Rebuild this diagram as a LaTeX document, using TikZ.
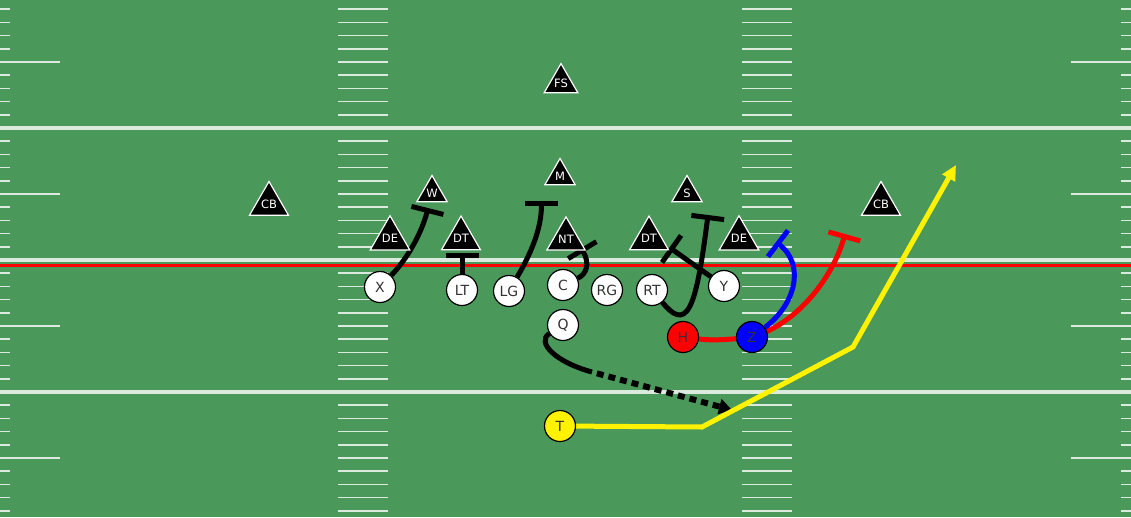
\documentclass[tikz,border=0pt]{standalone}
\usepackage{fontspec}
\setmainfont{DejaVu Sans}
\usetikzlibrary{arrows.meta,shapes.geometric}
\pgfdeclarelayer{field}
\pgfdeclarelayer{routes}
\pgfsetlayers{field,routes,main}
\definecolor{turf}{RGB}{74,152,90}
\begin{document}
\begin{tikzpicture}[x=1pt,y=-1pt,
  player/.style={circle,draw=black,line width=1.2pt,fill=white,minimum size=31pt,inner sep=0pt,text=black!80,font=\fontsize{14}{15}\selectfont},
  defender/.style={regular polygon,regular polygon sides=3,fill=black,draw=white,line width=1.2pt,minimum size=35pt,inner sep=0pt,text=white,font=\fontsize{11.5}{12}\selectfont},
  hashmark/.style={white,line width=1.7pt,opacity=0.8},
  yardline/.style={white,line width=3.5pt,opacity=0.8},
  block/.style={line width=5pt,-{Bar[width=33pt]}},
  qpath/.style={line width=5pt},
  qdots/.style={line width=6pt,dash pattern=on 7pt off 5pt,dash phase=7pt,-{Triangle[length=13pt,width=15pt]}},
  troute/.style={line width=5pt,yellow,-{Triangle[length=15pt,width=14pt]}}
]
\useasboundingbox (0,0) rectangle (1131,517);

\begin{pgfonlayer}{field}
\fill[turf] (0,0) rectangle (1131,517);
\foreach \Y in {-4,128,260,392}{
  \foreach \k in {1,2,3,4,6,7,8,9}{
    \pgfmathsetmacro\yy{\Y+13.2*\k}
    \draw[hashmark] (0,\yy) -- (10,\yy) (338,\yy) -- (388,\yy) (742,\yy) -- (792,\yy) (1121,\yy) -- (1131,\yy);
  }
  \pgfmathsetmacro\yy{\Y+66}
  \draw[hashmark] (0,\yy) -- (60,\yy) (338,\yy) -- (388,\yy) (742,\yy) -- (792,\yy) (1071,\yy) -- (1131,\yy);
}
\foreach \Y in {-3,128,260,392}{\draw[yardline] (0,\Y) -- (1131,\Y);}
\draw[red,line width=3.5pt] (0,265.5) -- (1131,265.5);
\end{pgfonlayer}

% defense
\node[defender] (FS) at (561,83) {FS};
\node[defender] (M) at (560,176) {M};
\node[defender] (W) at (432,193) {W};
\node[defender] (S) at (687,193) {S};
\node[defender] (CBl) at (269,204) {CB};
\node[defender] (CBr) at (881,204) {CB};
\node[defender] (DEl) at (390,238.5) {DE};
\node[defender] (DTl) at (461,238.5) {DT};
\node[defender] (NT) at (566,239) {NT};
\node[defender] (DTr) at (649,238.5) {DT};
\node[defender] (DEr) at (739,238.5) {DE};

% offense
\node[player] (X) at (380,287) {X};
\node[player] (LT) at (462,290) {LT};
\node[player] (LG) at (509,291) {LG};
\node[player] (C) at (563,285) {C};
\node[player] (RG) at (607,290) {RG};
\node[player] (RT) at (652,290) {RT};
\node[player] (Y) at (724,286) {Y};
\node[player,fill=red] (H) at (683,337) {H};
\node[player,fill=blue] (Z) at (752,337) {Z};
\node[player] (Q) at (563,325) {Q};
\node[player,fill=yellow] (T) at (560,426) {T};

% route ends
\coordinate (xEnd) at (428,208);
\coordinate (ltEnd) at (462,253);
\coordinate (lgEnd) at (541.5,201);
\coordinate (cEnd) at (581,248);
\coordinate (rtTurn) at (690,306);
\coordinate (rtEnd) at (708,215);
\coordinate (yEnd) at (669.5,247.5);
\coordinate (hEnd) at (845,234);
\coordinate (zEnd) at (776,242);
\coordinate (qMid) at (592,372);
\coordinate (qEnd) at (732,410);
\coordinate (tA) at (702,427);
\coordinate (tB) at (853,347);
\coordinate (tEnd) at (956,165);

\begin{pgfonlayer}{routes}
\draw[block] (X) .. controls (408,258) and (422,232) .. (xEnd);
\draw[block] (LT) -- (ltEnd);
\draw[block] (LG) .. controls (530,255) and (541.5,230) .. (lgEnd);
\draw[block] (C) .. controls (587,274) and (590,263) .. (cEnd);
\draw[block] (RT) .. controls (672,314) and (682,322) .. (rtTurn) .. controls (697,292) and (702,262) .. (rtEnd);
\draw[block] (Y) -- (yEnd);
\draw[block,red] (H) .. controls (715,341) and (735,339) .. (Z.center) .. controls (795,325) and (832,280) .. (hEnd);
\draw[block,blue] (Z) .. controls (795,305) and (806,265) .. (zEnd);
\draw[qpath] (Q) .. controls (536,342) and (555,362) .. (qMid);
\draw[qdots] (qMid) -- (qEnd);
\draw[troute] (T) -- (tA) -- (tB) -- (tEnd);
\end{pgfonlayer}
\end{tikzpicture}
\end{document}
